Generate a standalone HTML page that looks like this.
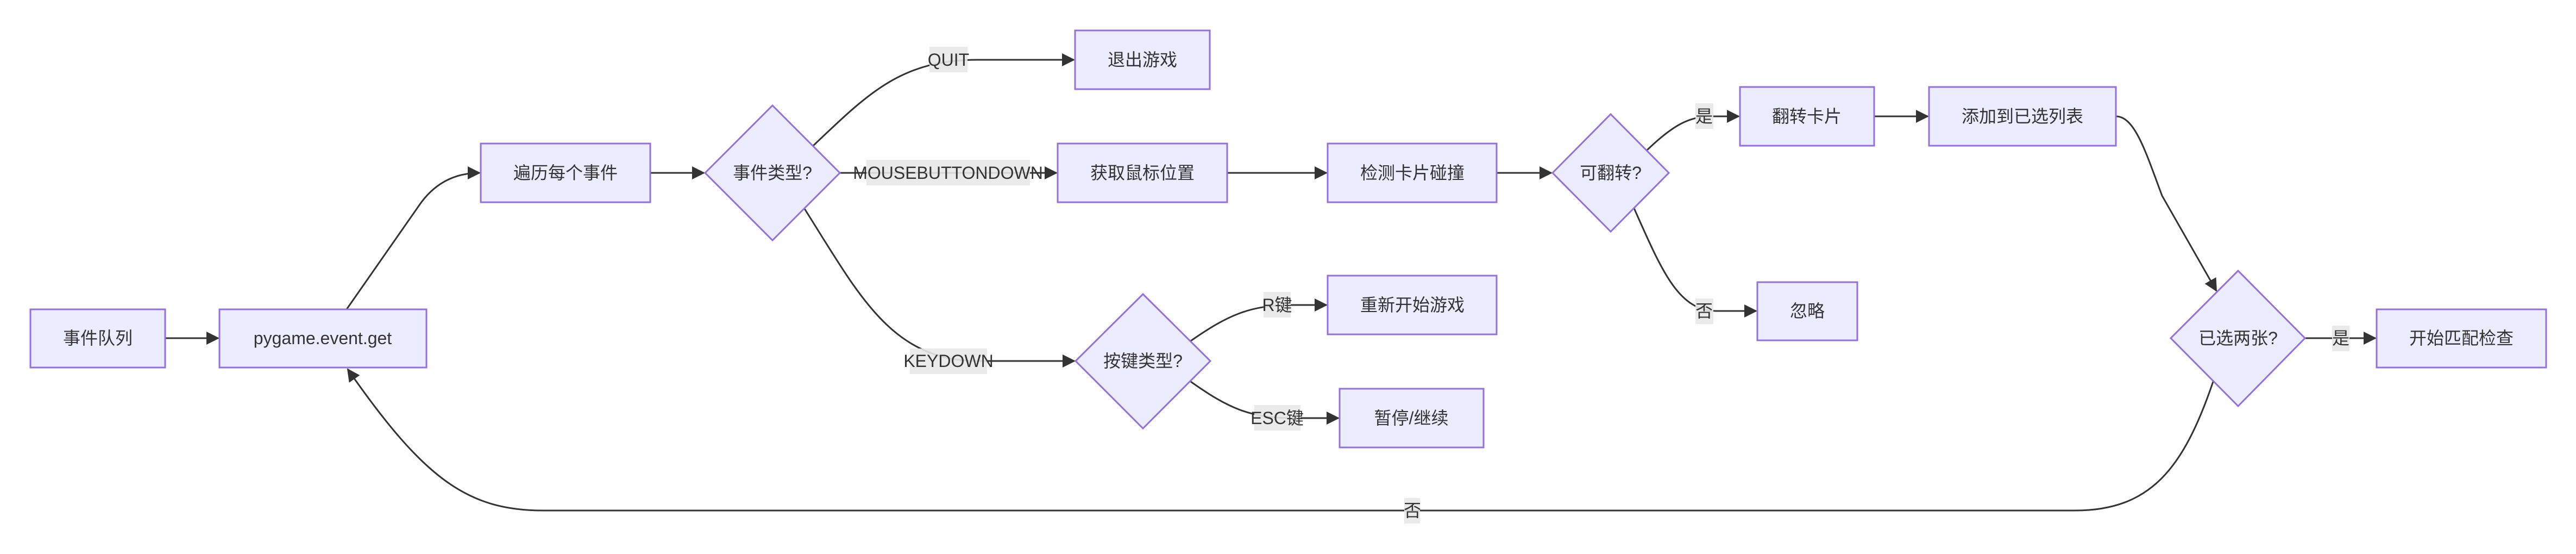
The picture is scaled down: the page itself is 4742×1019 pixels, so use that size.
<!DOCTYPE html>
<html><head><meta charset="utf-8">
<style>
html,body{margin:0;padding:0;background:#fff;}
svg{display:block;}
text{font-family:"Liberation Sans","Noto Sans CJK SC",sans-serif;font-size:32px;fill:#333;dominant-baseline:central;text-anchor:middle;}
.n{fill:#ECECFF;stroke:#9370DB;stroke-width:3;}
.e{fill:none;stroke:#333;stroke-width:3;}
.lb{fill:#e8e8e8;opacity:0.9;}
</style></head>
<body>
<svg width="4742" height="1019" viewBox="0 0 4742 1019" xmlns="http://www.w3.org/2000/svg">
<defs>
<marker id="a" viewBox="0 0 10 10" refX="9" refY="5" markerWidth="8" markerHeight="8" markerUnits="userSpaceOnUse" orient="auto">
</marker>
<marker id="ar" viewBox="0 0 12 12" refX="11" refY="6" markerWidth="24" markerHeight="24" markerUnits="userSpaceOnUse" orient="auto"><path d="M0,0 L12,6 L0,12 z" fill="#333"/></marker>
</defs>

<!-- edges -->
<path class="e" marker-end="url(#ar)" d="M304,622 L402,622"/>
<path class="e" marker-end="url(#ar)" d="M638,569 L770,380 C800,335 840,318 883,318"/>
<path class="e" marker-end="url(#ar)" d="M1197,318 L1296,318"/>
<path class="e" marker-end="url(#ar)" d="M1497,268 C1600,170 1660,110 1800,110 L1977,110"/>
<path class="e" marker-end="url(#ar)" d="M1546,318 L1945,318"/>
<path class="e" marker-end="url(#ar)" d="M1481,384 C1580,540 1640,664 1800,664 L1978,664"/>
<path class="e" marker-end="url(#ar)" d="M2259,318 L2442,318"/>
<path class="e" marker-end="url(#ar)" d="M2755,318 L2856,318"/>
<path class="e" marker-end="url(#ar)" d="M3032,276 C3080,230 3110,214 3150,214 L3201,214"/>
<path class="e" marker-end="url(#ar)" d="M3008,383 C3060,500 3090,572 3160,572 L3233,572"/>
<path class="e" marker-end="url(#ar)" d="M3450,214 L3549,214"/>
<path class="e" marker-end="url(#ar)" d="M3895,214 C3930,214 3950,280 3980,360 L4080,535"/>
<path class="e" marker-end="url(#ar)" d="M4243,622 L4373,622"/>
<path class="e" marker-end="url(#ar)" d="M2192,627 C2260,580 2300,561 2380,561 L2442,561"/>
<path class="e" marker-end="url(#ar)" d="M2192,702 C2260,750 2300,769 2380,769 L2464,769"/>
<path class="e" marker-end="url(#ar)" d="M4074,702 C4020,860 3960,939 3820,939 L1000,939 C860,939 780,880 640,679"/>

<!-- edge labels -->
<rect class="lb" x="1711" y="86" width="70" height="47"/><text x="1746" y="110">QUIT</text>
<rect class="lb" x="1595" y="294" width="301" height="47"/><text x="1745" y="318">MOUSEBUTTONDOWN</text>
<rect class="lb" x="1675" y="641" width="142" height="47"/><text x="1746" y="664">KEYDOWN</text>
<rect class="lb" x="2326" y="537" width="50" height="47"/><text x="2351" y="561">R键</text>
<rect class="lb" x="2309" y="745" width="85" height="47"/><text x="2351" y="769">ESC键</text>
<rect class="lb" x="3121" y="190" width="33" height="47"/><text x="3137" y="214">是</text>
<rect class="lb" x="3121" y="549" width="33" height="47"/><text x="3137" y="572">否</text>
<rect class="lb" x="2585" y="916" width="29" height="47"/><text x="2600" y="939">否</text>
<rect class="lb" x="4293" y="599" width="32" height="47"/><text x="4309" y="622">是</text>

<!-- nodes -->
<rect class="n" x="56" y="569" width="248" height="107"/><text x="180" y="622">事件队列</text>
<rect class="n" x="404" y="569" width="381" height="107"/><text x="594" y="622">pygame.event.get</text>
<rect class="n" x="885" y="264" width="312" height="108"/><text x="1041" y="318">遍历每个事件</text>
<polygon class="n" points="1422,194 1546,318 1422,442 1298,318"/><text x="1422" y="318">事件类型?</text>
<rect class="n" x="1979" y="56" width="248" height="108"/><text x="2103" y="110">退出游戏</text>
<rect class="n" x="1947" y="264" width="312" height="108"/><text x="2103" y="318">获取鼠标位置</text>
<rect class="n" x="2444" y="264" width="311" height="108"/><text x="2600" y="318">检测卡片碰撞</text>
<polygon class="n" points="2965,210 3072,318 2965,426 2858,318"/><text x="2965" y="318">可翻转?</text>
<polygon class="n" points="2104,541 2228,664 2104,788 1980,664"/><text x="2104" y="664">按键类型?</text>
<rect class="n" x="2444" y="507" width="311" height="108"/><text x="2600" y="561">重新开始游戏</text>
<rect class="n" x="2466" y="715" width="265" height="108"/><text x="2598" y="769">暂停/继续</text>
<rect class="n" x="3203" y="160" width="247" height="108"/><text x="3326" y="214">翻转卡片</text>
<rect class="n" x="3551" y="160" width="344" height="108"/><text x="3723" y="214">添加到已选列表</text>
<rect class="n" x="3235" y="519" width="184" height="107"/><text x="3327" y="572">忽略</text>
<polygon class="n" points="4120,498 4243,622 4120,747 3996,622"/><text x="4120" y="622">已选两张?</text>
<rect class="n" x="4375" y="569" width="312" height="107"/><text x="4531" y="622">开始匹配检查</text>
</svg>
</body></html>
